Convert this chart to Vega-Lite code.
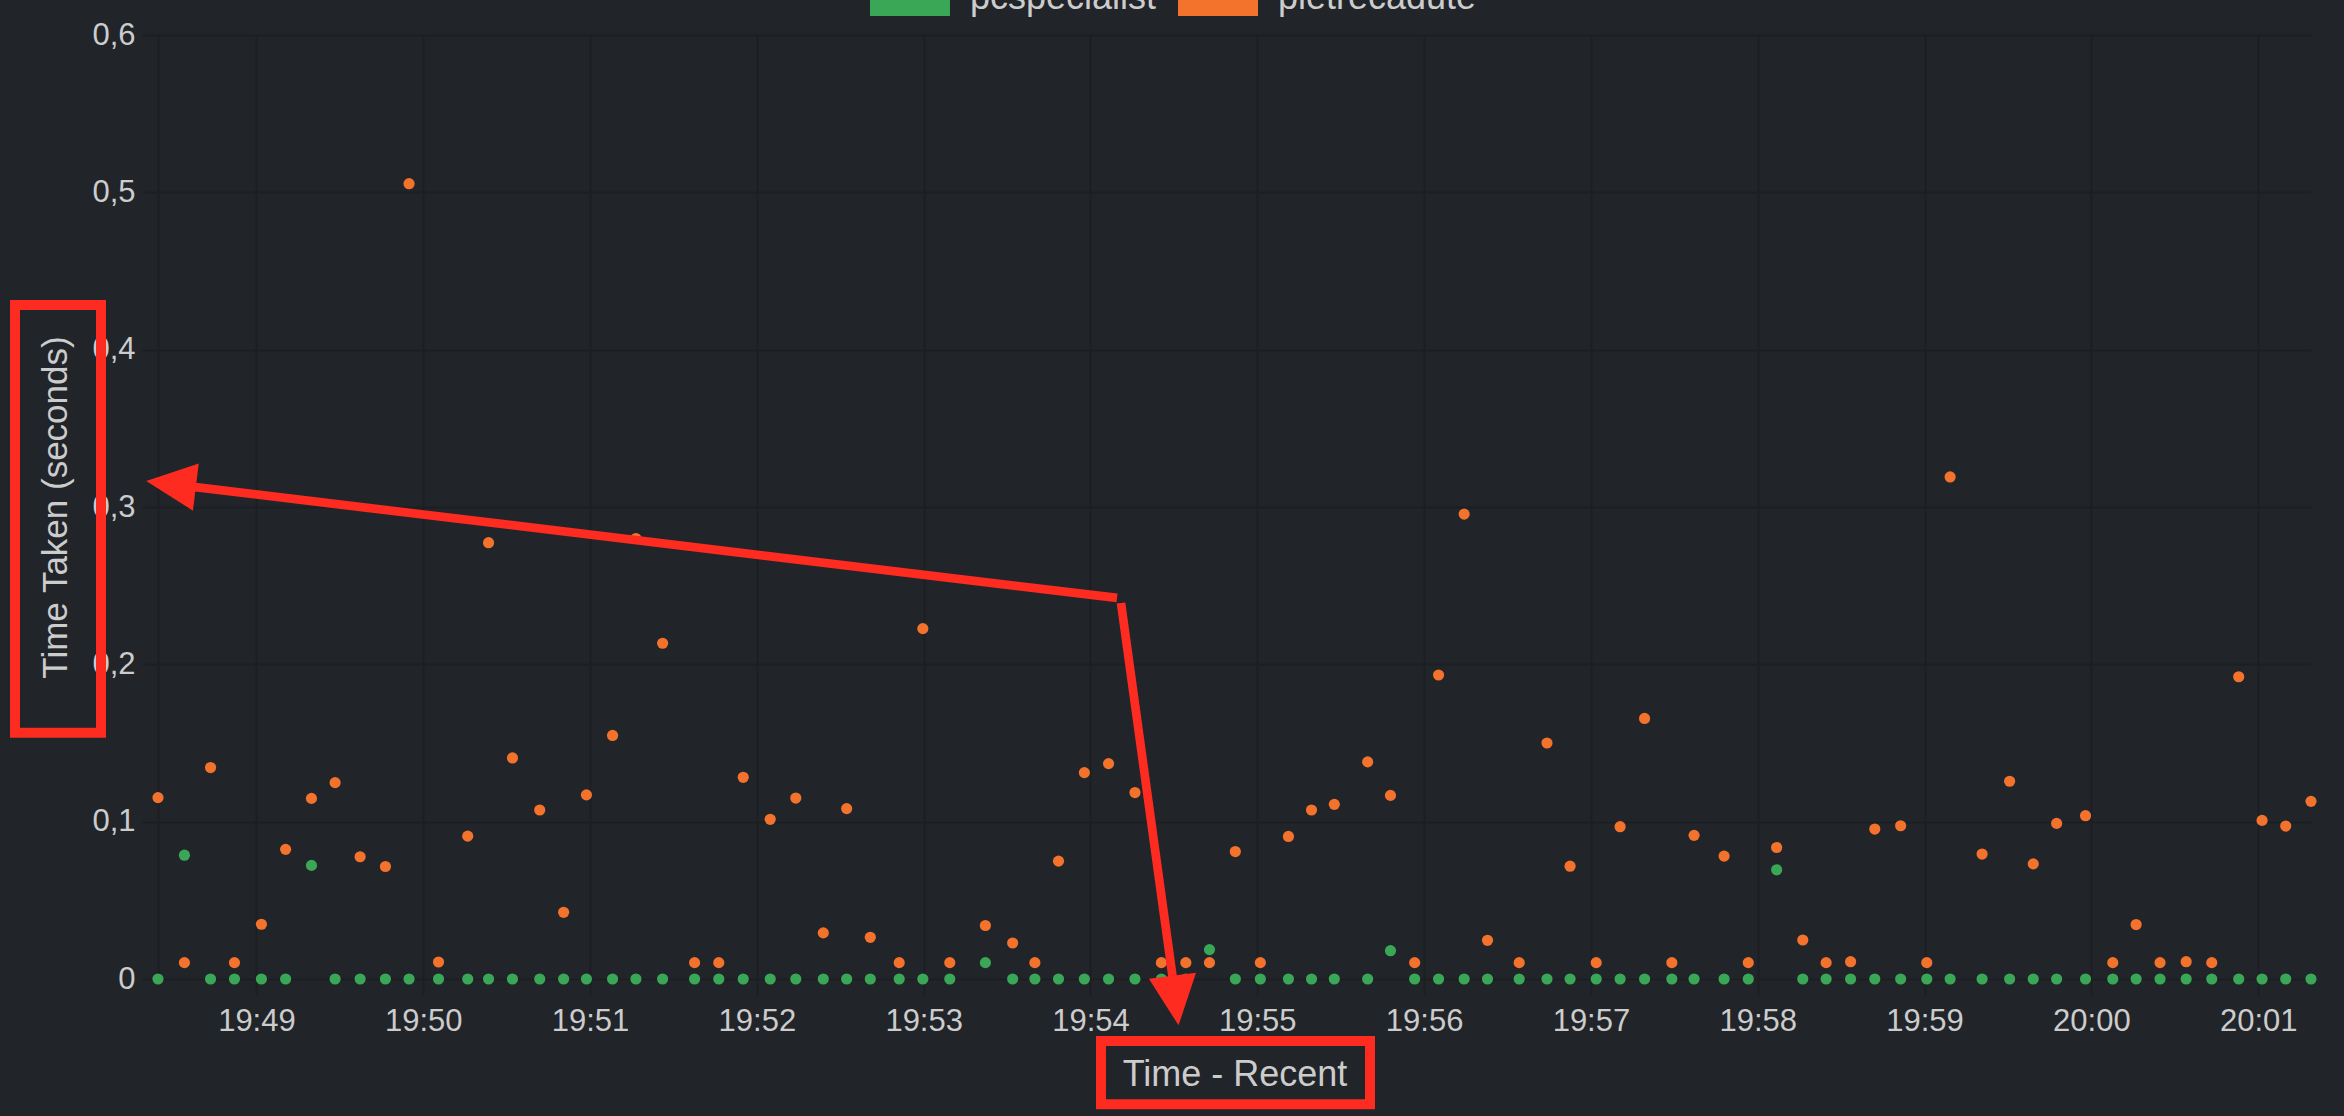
{
  "$schema": "https://vega.github.io/schema/vega-lite/v6.json",
  "width": 2153,
  "height": 944,
  "autosize": {"type": "none"},
  "padding": {"left": 158, "top": 35, "right": 33, "bottom": 137},
  "background": "#212429",
  "datasets": {
    "timings": [
      {"t": "2024-01-01T19:48:24.600", "pcspecialist": 0, "pietrecadute": 0.1153},
      {"t": "2024-01-01T19:48:34.100", "pcspecialist": 0.0787, "pietrecadute": 0.0104},
      {"t": "2024-01-01T19:48:43.500", "pcspecialist": 0, "pietrecadute": 0.1344},
      {"t": "2024-01-01T19:48:52.100", "pcspecialist": 0, "pietrecadute": 0.0104},
      {"t": "2024-01-01T19:49:01.800", "pcspecialist": 0, "pietrecadute": 0.0348},
      {"t": "2024-01-01T19:49:10.500", "pcspecialist": 0, "pietrecadute": 0.0824},
      {"t": "2024-01-01T19:49:19.800", "pcspecialist": 0.0722, "pietrecadute": 0.1148},
      {"t": "2024-01-01T19:49:28.300", "pcspecialist": 0, "pietrecadute": 0.1248},
      {"t": "2024-01-01T19:49:37.300", "pcspecialist": 0, "pietrecadute": 0.0777},
      {"t": "2024-01-01T19:49:46.400", "pcspecialist": 0, "pietrecadute": 0.0715},
      {"t": "2024-01-01T19:49:54.900", "pcspecialist": 0, "pietrecadute": 0.5055},
      {"t": "2024-01-01T19:50:05.500", "pcspecialist": 0, "pietrecadute": 0.0108},
      {"t": "2024-01-01T19:50:16.000", "pcspecialist": 0, "pietrecadute": 0.0908},
      {"t": "2024-01-01T19:50:23.500", "pcspecialist": 0, "pietrecadute": 0.2773},
      {"t": "2024-01-01T19:50:32.100", "pcspecialist": 0, "pietrecadute": 0.1405},
      {"t": "2024-01-01T19:50:41.900", "pcspecialist": 0, "pietrecadute": 0.1074},
      {"t": "2024-01-01T19:50:50.500", "pcspecialist": 0, "pietrecadute": 0.0424},
      {"t": "2024-01-01T19:50:58.700", "pcspecialist": 0, "pietrecadute": 0.117},
      {"t": "2024-01-01T19:51:08.100", "pcspecialist": 0, "pietrecadute": 0.1548},
      {"t": "2024-01-01T19:51:16.500", "pcspecialist": 0, "pietrecadute": 0.28},
      {"t": "2024-01-01T19:51:26.100", "pcspecialist": 0, "pietrecadute": 0.2134},
      {"t": "2024-01-01T19:51:37.600", "pcspecialist": 0, "pietrecadute": 0.0104},
      {"t": "2024-01-01T19:51:46.300", "pcspecialist": 0, "pietrecadute": 0.0104},
      {"t": "2024-01-01T19:51:55.100", "pcspecialist": 0, "pietrecadute": 0.1282},
      {"t": "2024-01-01T19:52:04.800", "pcspecialist": 0, "pietrecadute": 0.1015},
      {"t": "2024-01-01T19:52:14.000", "pcspecialist": 0, "pietrecadute": 0.115},
      {"t": "2024-01-01T19:52:23.900", "pcspecialist": 0, "pietrecadute": 0.0293},
      {"t": "2024-01-01T19:52:32.300", "pcspecialist": 0, "pietrecadute": 0.1083},
      {"t": "2024-01-01T19:52:40.800", "pcspecialist": 0, "pietrecadute": 0.0265},
      {"t": "2024-01-01T19:52:51.200", "pcspecialist": 0, "pietrecadute": 0.0104},
      {"t": "2024-01-01T19:52:59.700", "pcspecialist": 0, "pietrecadute": 0.2227},
      {"t": "2024-01-01T19:53:09.400", "pcspecialist": 0, "pietrecadute": 0.0104},
      {"t": "2024-01-01T19:53:22.200", "pcspecialist": 0.0104, "pietrecadute": 0.034},
      {"t": "2024-01-01T19:53:32.000", "pcspecialist": 0, "pietrecadute": 0.0229},
      {"t": "2024-01-01T19:53:40.000", "pcspecialist": 0, "pietrecadute": 0.0104},
      {"t": "2024-01-01T19:53:48.500", "pcspecialist": 0, "pietrecadute": 0.0749},
      {"t": "2024-01-01T19:53:57.800", "pcspecialist": 0, "pietrecadute": 0.1312},
      {"t": "2024-01-01T19:54:06.500", "pcspecialist": 0, "pietrecadute": 0.1369},
      {"t": "2024-01-01T19:54:16.000", "pcspecialist": 0, "pietrecadute": 0.1185},
      {"t": "2024-01-01T19:54:25.500", "pcspecialist": 0, "pietrecadute": 0.0104},
      {"t": "2024-01-01T19:54:34.300", "pcspecialist": 0, "pietrecadute": 0.0104},
      {"t": "2024-01-01T19:54:42.800", "pcspecialist": 0.0187, "pietrecadute": 0.0104},
      {"t": "2024-01-01T19:54:52.100", "pcspecialist": 0, "pietrecadute": 0.081},
      {"t": "2024-01-01T19:55:01.100", "pcspecialist": 0, "pietrecadute": 0.0104},
      {"t": "2024-01-01T19:55:11.200", "pcspecialist": 0, "pietrecadute": 0.0906},
      {"t": "2024-01-01T19:55:19.500", "pcspecialist": 0, "pietrecadute": 0.1074},
      {"t": "2024-01-01T19:55:27.700", "pcspecialist": 0, "pietrecadute": 0.111},
      {"t": "2024-01-01T19:55:39.700", "pcspecialist": 0, "pietrecadute": 0.138},
      {"t": "2024-01-01T19:55:47.900", "pcspecialist": 0.018, "pietrecadute": 0.1167},
      {"t": "2024-01-01T19:55:56.600", "pcspecialist": 0, "pietrecadute": 0.0104},
      {"t": "2024-01-01T19:56:05.200", "pcspecialist": 0, "pietrecadute": 0.1932},
      {"t": "2024-01-01T19:56:14.400", "pcspecialist": 0, "pietrecadute": 0.2955},
      {"t": "2024-01-01T19:56:22.800", "pcspecialist": 0, "pietrecadute": 0.0246},
      {"t": "2024-01-01T19:56:34.200", "pcspecialist": 0, "pietrecadute": 0.0104},
      {"t": "2024-01-01T19:56:44.200", "pcspecialist": 0, "pietrecadute": 0.15},
      {"t": "2024-01-01T19:56:52.500", "pcspecialist": 0, "pietrecadute": 0.0717},
      {"t": "2024-01-01T19:57:01.900", "pcspecialist": 0, "pietrecadute": 0.0104},
      {"t": "2024-01-01T19:57:10.500", "pcspecialist": 0, "pietrecadute": 0.0968},
      {"t": "2024-01-01T19:57:19.300", "pcspecialist": 0, "pietrecadute": 0.1656},
      {"t": "2024-01-01T19:57:29.100", "pcspecialist": 0, "pietrecadute": 0.0104},
      {"t": "2024-01-01T19:57:37.100", "pcspecialist": 0, "pietrecadute": 0.0913},
      {"t": "2024-01-01T19:57:47.900", "pcspecialist": 0, "pietrecadute": 0.0781},
      {"t": "2024-01-01T19:57:56.600", "pcspecialist": 0, "pietrecadute": 0.0104},
      {"t": "2024-01-01T19:58:06.800", "pcspecialist": 0.0694, "pietrecadute": 0.0836},
      {"t": "2024-01-01T19:58:16.200", "pcspecialist": 0, "pietrecadute": 0.0248},
      {"t": "2024-01-01T19:58:24.600", "pcspecialist": 0, "pietrecadute": 0.0104},
      {"t": "2024-01-01T19:58:33.400", "pcspecialist": 0, "pietrecadute": 0.011},
      {"t": "2024-01-01T19:58:42.100", "pcspecialist": 0, "pietrecadute": 0.0953},
      {"t": "2024-01-01T19:58:51.400", "pcspecialist": 0, "pietrecadute": 0.0974},
      {"t": "2024-01-01T19:59:00.800", "pcspecialist": 0, "pietrecadute": 0.0104},
      {"t": "2024-01-01T19:59:09.200", "pcspecialist": 0, "pietrecadute": 0.3191},
      {"t": "2024-01-01T19:59:20.700", "pcspecialist": 0, "pietrecadute": 0.0794},
      {"t": "2024-01-01T19:59:30.600", "pcspecialist": 0, "pietrecadute": 0.1257},
      {"t": "2024-01-01T19:59:39.100", "pcspecialist": 0, "pietrecadute": 0.0732},
      {"t": "2024-01-01T19:59:47.500", "pcspecialist": 0, "pietrecadute": 0.0989},
      {"t": "2024-01-01T19:59:57.900", "pcspecialist": 0, "pietrecadute": 0.1038},
      {"t": "2024-01-01T20:00:07.700", "pcspecialist": 0, "pietrecadute": 0.0104},
      {"t": "2024-01-01T20:00:16.100", "pcspecialist": 0, "pietrecadute": 0.0346},
      {"t": "2024-01-01T20:00:24.700", "pcspecialist": 0, "pietrecadute": 0.0104},
      {"t": "2024-01-01T20:00:34.100", "pcspecialist": 0, "pietrecadute": 0.011},
      {"t": "2024-01-01T20:00:43.300", "pcspecialist": 0, "pietrecadute": 0.0104},
      {"t": "2024-01-01T20:00:53.000", "pcspecialist": 0, "pietrecadute": 0.1921},
      {"t": "2024-01-01T20:01:01.400", "pcspecialist": 0, "pietrecadute": 0.1008},
      {"t": "2024-01-01T20:01:09.900", "pcspecialist": 0, "pietrecadute": 0.0972},
      {"t": "2024-01-01T20:01:19.000", "pcspecialist": 0, "pietrecadute": 0.1129}
    ],
    "boxes": [
      {"t": "2024-01-01T19:47:33.170", "t2": "2024-01-01T19:48:04.100", "v": 0.4284, "v2": 0.1565},
      {"t": "2024-01-01T19:54:03.780", "t2": "2024-01-01T19:55:40.540", "v": -0.0394, "v2": -0.0796}
    ],
    "arrows": [
      {"t": "2024-01-01T19:54:09.540", "t2": "2024-01-01T19:48:34.310", "v": 0.2422, "v2": 0.3134},
      {"t": "2024-01-01T19:54:10.980", "t2": "2024-01-01T19:54:29.680", "v": 0.239, "v2": -0.0006}
    ],
    "head_left": [{"t": "2024-01-01T19:48:29.280", "v": 0.3146}],
    "head_down": [{"t": "2024-01-01T19:54:30.580", "v": -0.0137}]
  },
  "layer": [
    {
      "data": {"name": "timings"},
      "transform": [{"fold": ["pcspecialist", "pietrecadute"], "as": ["series", "v"]}],
      "mark": {"type": "point", "filled": true, "size": 125, "opacity": 1, "strokeWidth": 0},
      "encoding": {
        "x": {
          "field": "t", "type": "temporal",
          "scale": {"domain": [
            {"year": 2024, "month": 1, "date": 1, "hours": 19, "minutes": 48, "seconds": 24, "milliseconds": 600},
            {"year": 2024, "month": 1, "date": 1, "hours": 20, "minutes": 1, "seconds": 19, "milliseconds": 0}
          ], "nice": false},
          "axis": {
            "title": "Time - Recent",
            "format": "%H:%M",
            "tickCount": 13,
            "labelFontSize": 31,
            "labelColor": "#cccccc",
            "labelPadding": 11,
            "labelFlush": false,
            "labelOverlap": false,
            "tickSize": 16,
            "tickColor": "#1c1e22",
            "tickWidth": 2,
            "grid": true,
            "gridColor": "#1c1e22",
            "gridWidth": 2,
            "domain": false,
            "titleFontSize": 36,
            "titleColor": "#cccccc",
            "titleFontWeight": "normal",
            "titlePadding": 21
          }
        },
        "y": {
          "field": "v", "type": "quantitative",
          "scale": {"domain": [0, 0.6], "nice": false, "zero": false},
          "axis": {
            "title": "Time Taken (seconds)",
            "values": [0, 0.1, 0.2, 0.3, 0.4, 0.5, 0.6],
            "format": ".1~f",
            "labelFontSize": 31,
            "labelColor": "#cccccc",
            "labelPadding": 7,
            "tickSize": 16,
            "tickColor": "#1c1e22",
            "tickWidth": 2,
            "grid": true,
            "gridColor": "#1c1e22",
            "gridWidth": 2,
            "domain": true,
            "domainColor": "#1c1e22",
            "domainWidth": 2,
            "titleFontSize": 35,
            "titleColor": "#cccccc",
            "titleFontWeight": "normal",
            "titlePadding": 18
          }
        },
        "color": {
          "field": "series", "type": "nominal",
          "scale": {"domain": ["pcspecialist", "pietrecadute"], "range": ["#3aa757", "#f3722c"]},
          "legend": {
            "orient": "none",
            "legendX": 712,
            "legendY": -77,
            "direction": "horizontal",
            "title": null,
            "symbolType": "M-1,-0.45H1V0.45H-1Z",
            "symbolSize": 6400,
            "symbolStrokeWidth": 0,
            "labelFontSize": 36,
            "labelLimit": 500,
            "labelColor": "#cccccc",
            "labelOffset": 20,
            "columnPadding": 21,
            "padding": 0
          }
        }
      }
    },
    {
      "data": {"name": "boxes"},
      "mark": {"type": "rect", "filled": false, "color": "#fe2b21", "strokeWidth": 10},
      "encoding": {
        "x": {"field": "t", "type": "temporal"},
        "x2": {"field": "t2"},
        "y": {"field": "v", "type": "quantitative"},
        "y2": {"field": "v2"}
      }
    },
    {
      "data": {"name": "arrows"},
      "mark": {"type": "rule", "color": "#fe2b21", "strokeWidth": 8.7, "strokeCap": "butt"},
      "encoding": {
        "x": {"field": "t", "type": "temporal"},
        "x2": {"field": "t2"},
        "y": {"field": "v", "type": "quantitative"},
        "y2": {"field": "v2"}
      }
    },
    {
      "data": {"name": "head_left"},
      "mark": {"type": "point", "shape": "M0,-1L-0.95,1L0.95,1Z", "filled": true, "opacity": 1, "color": "#fe2b21", "size": 2500, "angle": -83, "strokeWidth": 0},
      "encoding": {
        "x": {"field": "t", "type": "temporal"},
        "y": {"field": "v", "type": "quantitative"}
      }
    },
    {
      "data": {"name": "head_down"},
      "mark": {"type": "point", "shape": "M0,-1L-0.95,1L0.95,1Z", "filled": true, "opacity": 1, "color": "#fe2b21", "size": 2500, "angle": 173, "strokeWidth": 0},
      "encoding": {
        "x": {"field": "t", "type": "temporal"},
        "y": {"field": "v", "type": "quantitative"}
      }
    }
  ],
  "config": {
    "font": "Liberation Sans",
    "view": {"stroke": null},
    "locale": {
      "number": {"decimal": ",", "thousands": ".", "grouping": [3], "currency": ["", " €"]}
    }
  }
}
